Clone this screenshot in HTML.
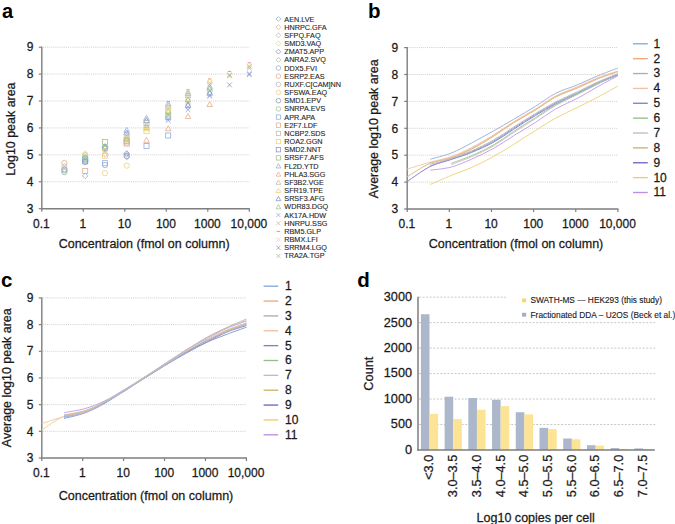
<!DOCTYPE html>
<html><head><meta charset="utf-8"><style>
html,body{margin:0;padding:0;background:#fff;width:675px;height:524px;overflow:hidden;position:relative}
</style></head><body>
<svg width="675" height="524" viewBox="0 0 675 524" style="position:absolute;left:0;top:0">
<g font-family='"Liberation Sans", sans-serif'>
<text x="1.90" y="17.60" text-anchor="start" font-size="20" font-weight="700" fill="#000" >a</text>
<line x1="42.80" y1="181.78" x2="249.30" y2="181.78" stroke="#d2d2d2" stroke-width="1" stroke-dasharray="1.1 1.0"/>
<line x1="42.80" y1="154.86" x2="249.30" y2="154.86" stroke="#d2d2d2" stroke-width="1" stroke-dasharray="1.1 1.0"/>
<line x1="42.80" y1="127.94" x2="249.30" y2="127.94" stroke="#d2d2d2" stroke-width="1" stroke-dasharray="1.1 1.0"/>
<line x1="42.80" y1="101.02" x2="249.30" y2="101.02" stroke="#d2d2d2" stroke-width="1" stroke-dasharray="1.1 1.0"/>
<line x1="42.80" y1="74.10" x2="249.30" y2="74.10" stroke="#d2d2d2" stroke-width="1" stroke-dasharray="1.1 1.0"/>
<line x1="42.80" y1="47.18" x2="249.30" y2="47.18" stroke="#d2d2d2" stroke-width="1" stroke-dasharray="1.1 1.0"/>
<line x1="41.80" y1="46.68" x2="41.80" y2="209.30" stroke="#7e7e7e" stroke-width="1.4"/>
<line x1="41.10" y1="208.70" x2="249.80" y2="208.70" stroke="#7e7e7e" stroke-width="1.4"/>
<line x1="38.80" y1="208.70" x2="41.80" y2="208.70" stroke="#7e7e7e" stroke-width="1.2"/>
<text x="33.50" y="212.90" text-anchor="end" font-size="12" font-weight="400" fill="#1a1a1a" stroke="#1a1a1a" stroke-width="0.26">3</text>
<line x1="38.80" y1="181.78" x2="41.80" y2="181.78" stroke="#7e7e7e" stroke-width="1.2"/>
<text x="33.50" y="185.98" text-anchor="end" font-size="12" font-weight="400" fill="#1a1a1a" stroke="#1a1a1a" stroke-width="0.26">4</text>
<line x1="38.80" y1="154.86" x2="41.80" y2="154.86" stroke="#7e7e7e" stroke-width="1.2"/>
<text x="33.50" y="159.06" text-anchor="end" font-size="12" font-weight="400" fill="#1a1a1a" stroke="#1a1a1a" stroke-width="0.26">5</text>
<line x1="38.80" y1="127.94" x2="41.80" y2="127.94" stroke="#7e7e7e" stroke-width="1.2"/>
<text x="33.50" y="132.14" text-anchor="end" font-size="12" font-weight="400" fill="#1a1a1a" stroke="#1a1a1a" stroke-width="0.26">6</text>
<line x1="38.80" y1="101.02" x2="41.80" y2="101.02" stroke="#7e7e7e" stroke-width="1.2"/>
<text x="33.50" y="105.22" text-anchor="end" font-size="12" font-weight="400" fill="#1a1a1a" stroke="#1a1a1a" stroke-width="0.26">7</text>
<line x1="38.80" y1="74.10" x2="41.80" y2="74.10" stroke="#7e7e7e" stroke-width="1.2"/>
<text x="33.50" y="78.30" text-anchor="end" font-size="12" font-weight="400" fill="#1a1a1a" stroke="#1a1a1a" stroke-width="0.26">8</text>
<line x1="38.80" y1="47.18" x2="41.80" y2="47.18" stroke="#7e7e7e" stroke-width="1.2"/>
<text x="33.50" y="51.38" text-anchor="end" font-size="12" font-weight="400" fill="#1a1a1a" stroke="#1a1a1a" stroke-width="0.26">9</text>
<line x1="41.80" y1="208.70" x2="41.80" y2="211.70" stroke="#7e7e7e" stroke-width="1.2"/>
<text x="41.40" y="228.00" text-anchor="middle" font-size="12" font-weight="400" fill="#1a1a1a" stroke="#1a1a1a" stroke-width="0.26">0.1</text>
<line x1="83.30" y1="208.70" x2="83.30" y2="211.70" stroke="#7e7e7e" stroke-width="1.2"/>
<text x="82.90" y="228.00" text-anchor="middle" font-size="12" font-weight="400" fill="#1a1a1a" stroke="#1a1a1a" stroke-width="0.26">1</text>
<line x1="124.80" y1="208.70" x2="124.80" y2="211.70" stroke="#7e7e7e" stroke-width="1.2"/>
<text x="124.40" y="228.00" text-anchor="middle" font-size="12" font-weight="400" fill="#1a1a1a" stroke="#1a1a1a" stroke-width="0.26">10</text>
<line x1="166.30" y1="208.70" x2="166.30" y2="211.70" stroke="#7e7e7e" stroke-width="1.2"/>
<text x="165.90" y="228.00" text-anchor="middle" font-size="12" font-weight="400" fill="#1a1a1a" stroke="#1a1a1a" stroke-width="0.26">100</text>
<line x1="207.80" y1="208.70" x2="207.80" y2="211.70" stroke="#7e7e7e" stroke-width="1.2"/>
<text x="207.40" y="228.00" text-anchor="middle" font-size="12" font-weight="400" fill="#1a1a1a" stroke="#1a1a1a" stroke-width="0.26">1000</text>
<line x1="249.30" y1="208.70" x2="249.30" y2="211.70" stroke="#7e7e7e" stroke-width="1.2"/>
<text x="248.90" y="228.00" text-anchor="middle" font-size="12" font-weight="400" fill="#1a1a1a" stroke="#1a1a1a" stroke-width="0.26">10,000</text>
<text transform="translate(14.90,129.15) rotate(-90)" text-anchor="middle" font-size="12.45" font-weight="400" fill="#1a1a1a" stroke="#1a1a1a" stroke-width="0.26">Log10 peak area</text>
<text x="58.70" y="248.20" text-anchor="start" font-size="12.5" font-weight="400" fill="#1a1a1a" stroke="#1a1a1a" stroke-width="0.26">Concentraion (fmol on column)</text>
<path d="M278.40 16.60L280.80 19.00L278.40 21.40L276.00 19.00Z" fill="none" stroke="#8eaedb" stroke-width="0.75"/>
<text x="284.30" y="21.55" text-anchor="start" font-size="7.25" font-weight="400" fill="#262626" stroke="#262626" stroke-width="0.12">AEN.LVE</text>
<path d="M278.40 24.77L280.80 27.17L278.40 29.57L276.00 27.17Z" fill="none" stroke="#e6ad90" stroke-width="0.75"/>
<text x="284.30" y="29.72" text-anchor="start" font-size="7.25" font-weight="400" fill="#262626" stroke="#262626" stroke-width="0.12">HNRPC.GFA</text>
<path d="M278.40 32.94L280.80 35.34L278.40 37.74L276.00 35.34Z" fill="none" stroke="#b9b9b9" stroke-width="0.75"/>
<text x="284.30" y="37.89" text-anchor="start" font-size="7.25" font-weight="400" fill="#262626" stroke="#262626" stroke-width="0.12">SFPQ.FAQ</text>
<path d="M278.40 41.11L280.80 43.51L278.40 45.91L276.00 43.51Z" fill="none" stroke="#eed27a" stroke-width="0.75"/>
<text x="284.30" y="46.06" text-anchor="start" font-size="7.25" font-weight="400" fill="#262626" stroke="#262626" stroke-width="0.12">SMD3.VAQ</text>
<path d="M278.40 49.28L280.80 51.68L278.40 54.08L276.00 51.68Z" fill="none" stroke="#8592c8" stroke-width="0.75"/>
<text x="284.30" y="54.23" text-anchor="start" font-size="7.25" font-weight="400" fill="#262626" stroke="#262626" stroke-width="0.12">ZMAT5.APP</text>
<path d="M278.40 57.45L280.80 59.85L278.40 62.25L276.00 59.85Z" fill="none" stroke="#9fc28d" stroke-width="0.75"/>
<text x="284.30" y="62.40" text-anchor="start" font-size="7.25" font-weight="400" fill="#262626" stroke="#262626" stroke-width="0.12">ANRA2.SVQ</text>
<circle cx="278.40" cy="68.02" r="2.28" fill="none" stroke="#8eaedb" stroke-width="0.75"/>
<text x="284.30" y="70.57" text-anchor="start" font-size="7.25" font-weight="400" fill="#262626" stroke="#262626" stroke-width="0.12">DDX5.FVI</text>
<circle cx="278.40" cy="76.19" r="2.28" fill="none" stroke="#e6ad90" stroke-width="0.75"/>
<text x="284.30" y="78.74" text-anchor="start" font-size="7.25" font-weight="400" fill="#262626" stroke="#262626" stroke-width="0.12">ESRP2.EAS</text>
<circle cx="278.40" cy="84.36" r="2.28" fill="none" stroke="#b9b9b9" stroke-width="0.75"/>
<text x="284.30" y="86.91" text-anchor="start" font-size="7.25" font-weight="400" fill="#262626" stroke="#262626" stroke-width="0.12">RUXF.C[CAM]NN</text>
<circle cx="278.40" cy="92.53" r="2.28" fill="none" stroke="#eed27a" stroke-width="0.75"/>
<text x="284.30" y="95.08" text-anchor="start" font-size="7.25" font-weight="400" fill="#262626" stroke="#262626" stroke-width="0.12">SFSWA.EAQ</text>
<circle cx="278.40" cy="100.70" r="2.28" fill="none" stroke="#8592c8" stroke-width="0.75"/>
<text x="284.30" y="103.25" text-anchor="start" font-size="7.25" font-weight="400" fill="#262626" stroke="#262626" stroke-width="0.12">SMD1.EPV</text>
<circle cx="278.40" cy="108.87" r="2.28" fill="none" stroke="#9fc28d" stroke-width="0.75"/>
<text x="284.30" y="111.42" text-anchor="start" font-size="7.25" font-weight="400" fill="#262626" stroke="#262626" stroke-width="0.12">SNRPA.EVS</text>
<rect x="276.24" y="114.88" width="4.32" height="4.32" fill="none" stroke="#8eaedb" stroke-width="0.75"/>
<text x="284.30" y="119.59" text-anchor="start" font-size="7.25" font-weight="400" fill="#262626" stroke="#262626" stroke-width="0.12">APR.APA</text>
<rect x="276.24" y="123.05" width="4.32" height="4.32" fill="none" stroke="#e6ad90" stroke-width="0.75"/>
<text x="284.30" y="127.76" text-anchor="start" font-size="7.25" font-weight="400" fill="#262626" stroke="#262626" stroke-width="0.12">E2F7.LDF</text>
<rect x="276.24" y="131.22" width="4.32" height="4.32" fill="none" stroke="#b9b9b9" stroke-width="0.75"/>
<text x="284.30" y="135.93" text-anchor="start" font-size="7.25" font-weight="400" fill="#262626" stroke="#262626" stroke-width="0.12">NCBP2.SDS</text>
<rect x="276.24" y="139.39" width="4.32" height="4.32" fill="none" stroke="#eed27a" stroke-width="0.75"/>
<text x="284.30" y="144.10" text-anchor="start" font-size="7.25" font-weight="400" fill="#262626" stroke="#262626" stroke-width="0.12">ROA2.GGN</text>
<rect x="276.24" y="147.56" width="4.32" height="4.32" fill="none" stroke="#8592c8" stroke-width="0.75"/>
<text x="284.30" y="152.27" text-anchor="start" font-size="7.25" font-weight="400" fill="#262626" stroke="#262626" stroke-width="0.12">SMD2.NNT</text>
<rect x="276.24" y="155.73" width="4.32" height="4.32" fill="none" stroke="#9fc28d" stroke-width="0.75"/>
<text x="284.30" y="160.44" text-anchor="start" font-size="7.25" font-weight="400" fill="#262626" stroke="#262626" stroke-width="0.12">SRSF7.AFS</text>
<path d="M278.40 163.66L280.80 167.98L276.00 167.98Z" fill="none" stroke="#8eaedb" stroke-width="0.75"/>
<text x="284.30" y="168.61" text-anchor="start" font-size="7.25" font-weight="400" fill="#262626" stroke="#262626" stroke-width="0.12">FL2D.YTD</text>
<path d="M278.40 171.83L280.80 176.15L276.00 176.15Z" fill="none" stroke="#e6ad90" stroke-width="0.75"/>
<text x="284.30" y="176.78" text-anchor="start" font-size="7.25" font-weight="400" fill="#262626" stroke="#262626" stroke-width="0.12">PHLA3.SGG</text>
<path d="M278.40 180.00L280.80 184.32L276.00 184.32Z" fill="none" stroke="#b9b9b9" stroke-width="0.75"/>
<text x="284.30" y="184.95" text-anchor="start" font-size="7.25" font-weight="400" fill="#262626" stroke="#262626" stroke-width="0.12">SF3B2.VGE</text>
<path d="M278.40 188.17L280.80 192.49L276.00 192.49Z" fill="none" stroke="#eed27a" stroke-width="0.75"/>
<text x="284.30" y="193.12" text-anchor="start" font-size="7.25" font-weight="400" fill="#262626" stroke="#262626" stroke-width="0.12">SFR19.TPE</text>
<path d="M278.40 196.34L280.80 200.66L276.00 200.66Z" fill="none" stroke="#8592c8" stroke-width="0.75"/>
<text x="284.30" y="201.29" text-anchor="start" font-size="7.25" font-weight="400" fill="#262626" stroke="#262626" stroke-width="0.12">SRSF3.AFG</text>
<path d="M278.40 204.51L280.80 208.83L276.00 208.83Z" fill="none" stroke="#9fc28d" stroke-width="0.75"/>
<text x="284.30" y="209.46" text-anchor="start" font-size="7.25" font-weight="400" fill="#262626" stroke="#262626" stroke-width="0.12">WDR83.DGQ</text>
<path d="M276.36 213.04L280.44 217.12M280.44 213.04L276.36 217.12" fill="none" stroke="#8eaedb" stroke-width="0.75"/>
<text x="284.30" y="217.63" text-anchor="start" font-size="7.25" font-weight="400" fill="#262626" stroke="#262626" stroke-width="0.12">AK17A.HDW</text>
<path d="M276.36 221.21L280.44 225.29M280.44 221.21L276.36 225.29" fill="none" stroke="#e6ad90" stroke-width="0.75"/>
<text x="284.30" y="225.80" text-anchor="start" font-size="7.25" font-weight="400" fill="#262626" stroke="#262626" stroke-width="0.12">HNRPU.SSG</text>
<line x1="276.70" y1="231.42" x2="280.10" y2="231.42" stroke="#e49a94" stroke-width="1.1"/>
<text x="284.30" y="233.97" text-anchor="start" font-size="7.25" font-weight="400" fill="#262626" stroke="#262626" stroke-width="0.12">RBM5.GLP</text>
<path d="M276.36 237.55L280.44 241.63M280.44 237.55L276.36 241.63" fill="none" stroke="#eed27a" stroke-width="0.75"/>
<text x="284.30" y="242.14" text-anchor="start" font-size="7.25" font-weight="400" fill="#262626" stroke="#262626" stroke-width="0.12">RBMX.LFI</text>
<path d="M276.36 245.72L280.44 249.80M280.44 245.72L276.36 249.80" fill="none" stroke="#8592c8" stroke-width="0.75"/>
<text x="284.30" y="250.31" text-anchor="start" font-size="7.25" font-weight="400" fill="#262626" stroke="#262626" stroke-width="0.12">SRRM4.LGQ</text>
<path d="M276.36 253.89L280.44 257.97M280.44 253.89L276.36 257.97" fill="none" stroke="#9fc28d" stroke-width="0.75"/>
<text x="284.30" y="258.48" text-anchor="start" font-size="7.25" font-weight="400" fill="#262626" stroke="#262626" stroke-width="0.12">TRA2A.TGP</text>
<circle cx="64.38" cy="162.94" r="2.66" fill="none" stroke="#e6ad90" stroke-width="0.8"/>
<path d="M64.38 163.37L67.18 166.17L64.38 168.97L61.58 166.17Z" fill="none" stroke="#e6ad90" stroke-width="0.8"/>
<circle cx="64.38" cy="169.40" r="2.66" fill="none" stroke="#8592c8" stroke-width="0.8"/>
<circle cx="64.38" cy="170.47" r="2.66" fill="none" stroke="#8eaedb" stroke-width="0.8"/>
<circle cx="64.38" cy="172.09" r="2.66" fill="none" stroke="#9fc28d" stroke-width="0.8"/>
<path d="M85.20 150.71L88.00 153.51L85.20 156.31L82.40 153.51Z" fill="none" stroke="#eed27a" stroke-width="0.8"/>
<path d="M85.20 152.06L88.00 154.86L85.20 157.66L82.40 154.86Z" fill="none" stroke="#b9b9b9" stroke-width="0.8"/>
<circle cx="85.20" cy="155.40" r="2.66" fill="none" stroke="#eed27a" stroke-width="0.8"/>
<path d="M85.20 154.21L88.00 157.01L85.20 159.81L82.40 157.01Z" fill="none" stroke="#9fc28d" stroke-width="0.8"/>
<circle cx="85.20" cy="158.09" r="2.66" fill="none" stroke="#9fc28d" stroke-width="0.8"/>
<rect x="82.68" y="156.38" width="5.04" height="5.04" fill="none" stroke="#9fc28d" stroke-width="0.8"/>
<circle cx="85.20" cy="160.24" r="2.66" fill="none" stroke="#8eaedb" stroke-width="0.8"/>
<rect x="82.68" y="158.80" width="5.04" height="5.04" fill="none" stroke="#8eaedb" stroke-width="0.8"/>
<circle cx="85.20" cy="161.86" r="2.66" fill="none" stroke="#8592c8" stroke-width="0.8"/>
<rect x="82.68" y="168.49" width="5.04" height="5.04" fill="none" stroke="#e6ad90" stroke-width="0.8"/>
<path d="M85.20 173.06L88.00 175.86L85.20 178.66L82.40 175.86Z" fill="none" stroke="#8eaedb" stroke-width="0.8"/>
<rect x="102.48" y="139.42" width="5.04" height="5.04" fill="none" stroke="#9fc28d" stroke-width="0.8"/>
<path d="M105.00 143.98L107.80 146.78L105.00 149.58L102.20 146.78Z" fill="none" stroke="#8592c8" stroke-width="0.8"/>
<circle cx="105.00" cy="147.86" r="2.66" fill="none" stroke="#8592c8" stroke-width="0.8"/>
<circle cx="105.00" cy="148.94" r="2.66" fill="none" stroke="#9fc28d" stroke-width="0.8"/>
<path d="M105.00 145.33L107.80 148.13L105.00 150.93L102.20 148.13Z" fill="none" stroke="#9fc28d" stroke-width="0.8"/>
<circle cx="105.00" cy="147.32" r="2.66" fill="none" stroke="#8eaedb" stroke-width="0.8"/>
<path d="M105.00 143.45L107.80 146.25L105.00 149.05L102.20 146.25Z" fill="none" stroke="#b9b9b9" stroke-width="0.8"/>
<path d="M105.00 148.02L107.80 150.82L105.00 153.62L102.20 150.82Z" fill="none" stroke="#eed27a" stroke-width="0.8"/>
<rect x="102.48" y="153.15" width="5.04" height="5.04" fill="none" stroke="#eed27a" stroke-width="0.8"/>
<path d="M105.00 151.52L107.80 154.32L105.00 157.12L102.20 154.32Z" fill="none" stroke="#e6ad90" stroke-width="0.8"/>
<rect x="102.48" y="160.69" width="5.04" height="5.04" fill="none" stroke="#8eaedb" stroke-width="0.8"/>
<circle cx="105.00" cy="165.09" r="2.66" fill="none" stroke="#8eaedb" stroke-width="0.8"/>
<circle cx="105.00" cy="173.17" r="2.66" fill="none" stroke="#eed27a" stroke-width="0.8"/>
<path d="M126.70 127.29L129.50 132.33L123.90 132.33Z" fill="none" stroke="#8eaedb" stroke-width="0.8"/>
<path d="M126.70 129.99L129.50 135.03L123.90 135.03Z" fill="none" stroke="#8592c8" stroke-width="0.8"/>
<path d="M126.70 132.68L129.50 137.72L123.90 137.72Z" fill="none" stroke="#b9b9b9" stroke-width="0.8"/>
<path d="M126.70 135.37L129.50 140.41L123.90 140.41Z" fill="none" stroke="#9fc28d" stroke-width="0.8"/>
<path d="M126.70 137.25L129.50 142.29L123.90 142.29Z" fill="none" stroke="#eed27a" stroke-width="0.8"/>
<rect x="124.18" y="136.73" width="5.04" height="5.04" fill="none" stroke="#eed27a" stroke-width="0.8"/>
<rect x="124.18" y="138.34" width="5.04" height="5.04" fill="none" stroke="#9fc28d" stroke-width="0.8"/>
<rect x="124.18" y="139.96" width="5.04" height="5.04" fill="none" stroke="#b9b9b9" stroke-width="0.8"/>
<rect x="124.18" y="141.03" width="5.04" height="5.04" fill="none" stroke="#e6ad90" stroke-width="0.8"/>
<path d="M126.70 150.71L129.50 153.51L126.70 156.31L123.90 153.51Z" fill="none" stroke="#8592c8" stroke-width="0.8"/>
<path d="M126.70 151.52L129.50 154.32L126.70 157.12L123.90 154.32Z" fill="none" stroke="#e6ad90" stroke-width="0.8"/>
<circle cx="126.70" cy="155.94" r="2.66" fill="none" stroke="#8592c8" stroke-width="0.8"/>
<path d="M126.70 154.21L129.50 157.01L126.70 159.81L123.90 157.01Z" fill="none" stroke="#8eaedb" stroke-width="0.8"/>
<circle cx="126.70" cy="165.63" r="2.66" fill="none" stroke="#eed27a" stroke-width="0.8"/>
<path d="M146.50 115.18L149.30 120.22L143.70 120.22Z" fill="none" stroke="#8eaedb" stroke-width="0.8"/>
<path d="M146.50 117.60L149.30 122.64L143.70 122.64Z" fill="none" stroke="#8592c8" stroke-width="0.8"/>
<rect x="143.98" y="120.57" width="5.04" height="5.04" fill="none" stroke="#b9b9b9" stroke-width="0.8"/>
<path d="M146.50 122.45L149.30 127.49L143.70 127.49Z" fill="none" stroke="#b9b9b9" stroke-width="0.8"/>
<path d="M146.50 124.60L149.30 129.64L143.70 129.64Z" fill="none" stroke="#9fc28d" stroke-width="0.8"/>
<path d="M146.50 125.68L149.30 130.72L143.70 130.72Z" fill="none" stroke="#eed27a" stroke-width="0.8"/>
<rect x="143.98" y="128.65" width="5.04" height="5.04" fill="none" stroke="#eed27a" stroke-width="0.8"/>
<path d="M146.50 137.25L149.30 142.29L143.70 142.29Z" fill="none" stroke="#e6ad90" stroke-width="0.8"/>
<rect x="143.98" y="143.46" width="5.04" height="5.04" fill="none" stroke="#8eaedb" stroke-width="0.8"/>
<line x1="166.50" y1="101.56" x2="169.90" y2="101.56" stroke="#e49a94" stroke-width="1.1"/>
<path d="M168.20 100.91L171.00 105.95L165.40 105.95Z" fill="none" stroke="#8eaedb" stroke-width="0.8"/>
<path d="M168.20 103.07L171.00 108.11L165.40 108.11Z" fill="none" stroke="#b9b9b9" stroke-width="0.8"/>
<path d="M168.20 104.95L171.00 109.99L165.40 109.99Z" fill="none" stroke="#eed27a" stroke-width="0.8"/>
<rect x="165.68" y="107.11" width="5.04" height="5.04" fill="none" stroke="#eed27a" stroke-width="0.8"/>
<path d="M168.20 108.45L171.00 113.49L165.40 113.49Z" fill="none" stroke="#9fc28d" stroke-width="0.8"/>
<path d="M165.82 110.75L170.58 115.51M170.58 110.75L165.82 115.51" fill="none" stroke="#eed27a" stroke-width="0.8"/>
<path d="M165.82 112.10L170.58 116.86M170.58 112.10L165.82 116.86" fill="none" stroke="#9fc28d" stroke-width="0.8"/>
<path d="M165.82 113.45L170.58 118.21M170.58 113.45L165.82 118.21" fill="none" stroke="#e6ad90" stroke-width="0.8"/>
<rect x="165.68" y="114.65" width="5.04" height="5.04" fill="none" stroke="#9fc28d" stroke-width="0.8"/>
<path d="M165.82 116.14L170.58 120.90M170.58 116.14L165.82 120.90" fill="none" stroke="#8eaedb" stroke-width="0.8"/>
<path d="M165.82 118.02L170.58 122.78M170.58 118.02L165.82 122.78" fill="none" stroke="#8592c8" stroke-width="0.8"/>
<path d="M168.20 125.68L171.00 130.72L165.40 130.72Z" fill="none" stroke="#e6ad90" stroke-width="0.8"/>
<rect x="165.68" y="132.96" width="5.04" height="5.04" fill="none" stroke="#8eaedb" stroke-width="0.8"/>
<line x1="186.30" y1="89.71" x2="189.70" y2="89.71" stroke="#e49a94" stroke-width="1.1"/>
<path d="M188.00 88.80L190.80 93.84L185.20 93.84Z" fill="none" stroke="#eed27a" stroke-width="0.8"/>
<path d="M188.00 90.68L190.80 95.72L185.20 95.72Z" fill="none" stroke="#8eaedb" stroke-width="0.8"/>
<path d="M188.00 92.84L190.80 97.88L185.20 97.88Z" fill="none" stroke="#b9b9b9" stroke-width="0.8"/>
<path d="M185.62 95.41L190.38 100.17M190.38 95.41L185.62 100.17" fill="none" stroke="#eed27a" stroke-width="0.8"/>
<path d="M188.00 96.87L190.80 101.91L185.20 101.91Z" fill="none" stroke="#9fc28d" stroke-width="0.8"/>
<path d="M185.62 99.18L190.38 103.94M190.38 99.18L185.62 103.94" fill="none" stroke="#9fc28d" stroke-width="0.8"/>
<path d="M185.62 100.79L190.38 105.55M190.38 100.79L185.62 105.55" fill="none" stroke="#e6ad90" stroke-width="0.8"/>
<path d="M188.00 102.26L190.80 107.30L185.20 107.30Z" fill="none" stroke="#8592c8" stroke-width="0.8"/>
<path d="M185.62 104.56L190.38 109.32M190.38 104.56L185.62 109.32" fill="none" stroke="#8eaedb" stroke-width="0.8"/>
<path d="M185.62 107.25L190.38 112.01M190.38 107.25L185.62 112.01" fill="none" stroke="#8592c8" stroke-width="0.8"/>
<path d="M188.00 113.56L190.80 118.60L185.20 118.60Z" fill="none" stroke="#e6ad90" stroke-width="0.8"/>
<line x1="208.00" y1="78.95" x2="211.40" y2="78.95" stroke="#e49a94" stroke-width="1.1"/>
<path d="M209.70 78.03L212.50 83.07L206.90 83.07Z" fill="none" stroke="#eed27a" stroke-width="0.8"/>
<path d="M207.32 80.33L212.08 85.09M212.08 80.33L207.32 85.09" fill="none" stroke="#eed27a" stroke-width="0.8"/>
<path d="M207.32 82.49L212.08 87.25M212.08 82.49L207.32 87.25" fill="none" stroke="#e6ad90" stroke-width="0.8"/>
<path d="M209.70 84.22L212.50 89.26L206.90 89.26Z" fill="none" stroke="#8eaedb" stroke-width="0.8"/>
<path d="M209.70 86.11L212.50 91.15L206.90 91.15Z" fill="none" stroke="#9fc28d" stroke-width="0.8"/>
<path d="M207.32 88.41L212.08 93.17M212.08 88.41L207.32 93.17" fill="none" stroke="#9fc28d" stroke-width="0.8"/>
<path d="M209.70 90.14L212.50 95.18L206.90 95.18Z" fill="none" stroke="#8592c8" stroke-width="0.8"/>
<path d="M207.32 92.72L212.08 97.48M212.08 92.72L207.32 97.48" fill="none" stroke="#8592c8" stroke-width="0.8"/>
<path d="M207.32 93.79L212.08 98.55M212.08 93.79L207.32 98.55" fill="none" stroke="#8eaedb" stroke-width="0.8"/>
<path d="M209.70 101.45L212.50 106.49L206.90 106.49Z" fill="none" stroke="#e6ad90" stroke-width="0.8"/>
<line x1="227.80" y1="71.41" x2="231.20" y2="71.41" stroke="#e49a94" stroke-width="1.1"/>
<path d="M227.12 72.26L231.88 77.02M231.88 72.26L227.12 77.02" fill="none" stroke="#eed27a" stroke-width="0.8"/>
<path d="M227.12 72.80L231.88 77.56M231.88 72.80L227.12 77.56" fill="none" stroke="#e6ad90" stroke-width="0.8"/>
<path d="M227.12 73.60L231.88 78.36M231.88 73.60L227.12 78.36" fill="none" stroke="#9fc28d" stroke-width="0.8"/>
<path d="M227.12 82.49L231.88 87.25M231.88 82.49L227.12 87.25" fill="none" stroke="#8592c8" stroke-width="0.8"/>
<line x1="247.60" y1="62.79" x2="251.00" y2="62.79" stroke="#e49a94" stroke-width="1.1"/>
<path d="M246.92 63.64L251.68 68.40M251.68 63.64L246.92 68.40" fill="none" stroke="#eed27a" stroke-width="0.8"/>
<path d="M246.92 64.18L251.68 68.94M251.68 64.18L246.92 68.94" fill="none" stroke="#e6ad90" stroke-width="0.8"/>
<path d="M246.92 65.80L251.68 70.56M251.68 65.80L246.92 70.56" fill="none" stroke="#9fc28d" stroke-width="0.8"/>
<path d="M246.92 71.18L251.68 75.94M251.68 71.18L246.92 75.94" fill="none" stroke="#8eaedb" stroke-width="0.8"/>
<path d="M246.92 72.26L251.68 77.02M251.68 72.26L246.92 77.02" fill="none" stroke="#8592c8" stroke-width="0.8"/>
<text x="368.00" y="18.20" text-anchor="start" font-size="20.5" font-weight="700" fill="#000" >b</text>
<line x1="408.20" y1="182.10" x2="617.90" y2="182.10" stroke="#d2d2d2" stroke-width="1" stroke-dasharray="1.1 1.0"/>
<line x1="408.20" y1="155.20" x2="617.90" y2="155.20" stroke="#d2d2d2" stroke-width="1" stroke-dasharray="1.1 1.0"/>
<line x1="408.20" y1="128.30" x2="617.90" y2="128.30" stroke="#d2d2d2" stroke-width="1" stroke-dasharray="1.1 1.0"/>
<line x1="408.20" y1="101.40" x2="617.90" y2="101.40" stroke="#d2d2d2" stroke-width="1" stroke-dasharray="1.1 1.0"/>
<line x1="408.20" y1="74.50" x2="617.90" y2="74.50" stroke="#d2d2d2" stroke-width="1" stroke-dasharray="1.1 1.0"/>
<line x1="408.20" y1="47.60" x2="617.90" y2="47.60" stroke="#d2d2d2" stroke-width="1" stroke-dasharray="1.1 1.0"/>
<line x1="407.20" y1="47.10" x2="407.20" y2="209.60" stroke="#7e7e7e" stroke-width="1.4"/>
<line x1="406.50" y1="209.00" x2="618.40" y2="209.00" stroke="#7e7e7e" stroke-width="1.4"/>
<line x1="404.20" y1="209.00" x2="407.20" y2="209.00" stroke="#7e7e7e" stroke-width="1.2"/>
<text x="398.30" y="213.20" text-anchor="end" font-size="12" font-weight="400" fill="#1a1a1a" stroke="#1a1a1a" stroke-width="0.26">3</text>
<line x1="404.20" y1="182.10" x2="407.20" y2="182.10" stroke="#7e7e7e" stroke-width="1.2"/>
<text x="398.30" y="186.30" text-anchor="end" font-size="12" font-weight="400" fill="#1a1a1a" stroke="#1a1a1a" stroke-width="0.26">4</text>
<line x1="404.20" y1="155.20" x2="407.20" y2="155.20" stroke="#7e7e7e" stroke-width="1.2"/>
<text x="398.30" y="159.40" text-anchor="end" font-size="12" font-weight="400" fill="#1a1a1a" stroke="#1a1a1a" stroke-width="0.26">5</text>
<line x1="404.20" y1="128.30" x2="407.20" y2="128.30" stroke="#7e7e7e" stroke-width="1.2"/>
<text x="398.30" y="132.50" text-anchor="end" font-size="12" font-weight="400" fill="#1a1a1a" stroke="#1a1a1a" stroke-width="0.26">6</text>
<line x1="404.20" y1="101.40" x2="407.20" y2="101.40" stroke="#7e7e7e" stroke-width="1.2"/>
<text x="398.30" y="105.60" text-anchor="end" font-size="12" font-weight="400" fill="#1a1a1a" stroke="#1a1a1a" stroke-width="0.26">7</text>
<line x1="404.20" y1="74.50" x2="407.20" y2="74.50" stroke="#7e7e7e" stroke-width="1.2"/>
<text x="398.30" y="78.70" text-anchor="end" font-size="12" font-weight="400" fill="#1a1a1a" stroke="#1a1a1a" stroke-width="0.26">8</text>
<line x1="404.20" y1="47.60" x2="407.20" y2="47.60" stroke="#7e7e7e" stroke-width="1.2"/>
<text x="398.30" y="51.80" text-anchor="end" font-size="12" font-weight="400" fill="#1a1a1a" stroke="#1a1a1a" stroke-width="0.26">9</text>
<line x1="407.20" y1="209.00" x2="407.20" y2="212.00" stroke="#7e7e7e" stroke-width="1.2"/>
<text x="406.80" y="228.00" text-anchor="middle" font-size="12" font-weight="400" fill="#1a1a1a" stroke="#1a1a1a" stroke-width="0.26">0.1</text>
<line x1="449.34" y1="209.00" x2="449.34" y2="212.00" stroke="#7e7e7e" stroke-width="1.2"/>
<text x="448.94" y="228.00" text-anchor="middle" font-size="12" font-weight="400" fill="#1a1a1a" stroke="#1a1a1a" stroke-width="0.26">1</text>
<line x1="491.48" y1="209.00" x2="491.48" y2="212.00" stroke="#7e7e7e" stroke-width="1.2"/>
<text x="491.08" y="228.00" text-anchor="middle" font-size="12" font-weight="400" fill="#1a1a1a" stroke="#1a1a1a" stroke-width="0.26">10</text>
<line x1="533.62" y1="209.00" x2="533.62" y2="212.00" stroke="#7e7e7e" stroke-width="1.2"/>
<text x="533.22" y="228.00" text-anchor="middle" font-size="12" font-weight="400" fill="#1a1a1a" stroke="#1a1a1a" stroke-width="0.26">100</text>
<line x1="575.76" y1="209.00" x2="575.76" y2="212.00" stroke="#7e7e7e" stroke-width="1.2"/>
<text x="575.36" y="228.00" text-anchor="middle" font-size="12" font-weight="400" fill="#1a1a1a" stroke="#1a1a1a" stroke-width="0.26">1000</text>
<line x1="617.90" y1="209.00" x2="617.90" y2="212.00" stroke="#7e7e7e" stroke-width="1.2"/>
<text x="617.50" y="228.00" text-anchor="middle" font-size="12" font-weight="400" fill="#1a1a1a" stroke="#1a1a1a" stroke-width="0.26">10,000</text>
<text transform="translate(378.30,128.75) rotate(-90)" text-anchor="middle" font-size="12.45" font-weight="400" fill="#1a1a1a" stroke="#1a1a1a" stroke-width="0.26">Average log10 peak area</text>
<text x="428.70" y="247.80" text-anchor="start" font-size="12.53" font-weight="400" fill="#1a1a1a" stroke="#1a1a1a" stroke-width="0.26">Concentration (fmol on column)</text>
<path d="M430.13 170.26C433.65 169.73 444.39 168.87 451.27 167.04C458.14 165.20 464.35 162.33 471.37 159.24C478.40 156.14 486.38 152.38 493.41 148.47C500.43 144.57 506.49 140.18 513.51 135.83C520.54 131.48 528.52 126.87 535.55 122.38C542.57 117.90 548.63 112.97 555.65 108.93C562.68 104.90 570.66 101.89 577.69 98.17C584.71 94.45 591.09 90.33 597.79 86.61C604.50 82.88 614.55 77.64 617.90 75.84" fill="none" stroke="#cba0ec" stroke-width="1.0" stroke-linejoin="round"/>
<path d="M430.13 184.52C433.65 183.00 444.39 178.20 451.27 175.38C458.14 172.55 464.35 170.71 471.37 167.57C478.40 164.44 486.38 160.40 493.41 156.54C500.43 152.69 506.49 148.79 513.51 144.44C520.54 140.09 528.52 134.85 535.55 130.45C542.57 126.06 548.63 121.93 555.65 118.08C562.68 114.22 570.66 110.81 577.69 107.32C584.71 103.82 591.09 100.64 597.79 97.10C604.50 93.55 614.55 87.91 617.90 86.07" fill="none" stroke="#f2d481" stroke-width="1.0" stroke-linejoin="round"/>
<path d="M407.20 181.56C411.02 179.05 422.78 170.17 430.13 166.50C437.47 162.82 444.39 161.84 451.27 159.50C458.14 157.17 464.35 155.38 471.37 152.51C478.40 149.64 486.38 146.14 493.41 142.29C500.43 138.43 506.49 133.86 513.51 129.38C520.54 124.89 528.52 119.60 535.55 115.39C542.57 111.17 548.63 107.68 555.65 104.09C562.68 100.50 570.66 97.28 577.69 93.87C584.71 90.46 591.09 86.78 597.79 83.65C604.50 80.51 614.55 76.47 617.90 75.04" fill="none" stroke="#8d80c8" stroke-width="1.0" stroke-linejoin="round"/>
<path d="M407.20 176.72C411.02 174.48 422.78 166.41 430.13 163.27C437.47 160.13 444.39 160.22 451.27 157.89C458.14 155.56 464.35 152.87 471.37 149.28C478.40 145.70 486.38 140.76 493.41 136.37C500.43 131.98 506.49 127.31 513.51 122.92C520.54 118.53 528.52 114.31 535.55 110.01C542.57 105.70 548.63 100.77 555.65 97.10C562.68 93.42 570.66 91.00 577.69 87.95C584.71 84.90 591.09 81.49 597.79 78.80C604.50 76.11 614.55 72.98 617.90 71.81" fill="none" stroke="#d6c186" stroke-width="1.0" stroke-linejoin="round"/>
<path d="M451.27 164.62C454.62 163.31 464.35 159.91 471.37 156.81C478.40 153.72 486.38 150.09 493.41 146.05C500.43 142.02 506.49 137.18 513.51 132.60C520.54 128.03 528.52 123.14 535.55 118.62C542.57 114.09 548.63 109.47 555.65 105.44C562.68 101.40 570.66 97.99 577.69 94.41C584.71 90.82 591.09 87.19 597.79 83.91C604.50 80.64 614.55 76.29 617.90 74.77" fill="none" stroke="#c8c8c8" stroke-width="1.0" stroke-linejoin="round"/>
<path d="M451.27 163.27C454.62 162.01 464.35 158.79 471.37 155.74C478.40 152.69 486.38 149.01 493.41 144.98C500.43 140.94 506.49 136.10 513.51 131.53C520.54 126.96 528.52 122.02 535.55 117.54C542.57 113.06 548.63 108.57 555.65 104.63C562.68 100.68 570.66 97.36 577.69 93.87C584.71 90.37 591.09 86.87 597.79 83.65C604.50 80.42 614.55 76.02 617.90 74.50" fill="none" stroke="#aac89b" stroke-width="1.0" stroke-linejoin="round"/>
<path d="M430.13 165.96C433.65 164.79 444.39 161.34 451.27 158.97C458.14 156.59 464.35 154.66 471.37 151.70C478.40 148.74 486.38 145.11 493.41 141.21C500.43 137.31 506.49 132.78 513.51 128.30C520.54 123.82 528.52 118.53 535.55 114.31C542.57 110.10 548.63 106.60 555.65 103.01C562.68 99.43 570.66 96.20 577.69 92.79C584.71 89.38 591.09 85.62 597.79 82.57C604.50 79.52 614.55 75.84 617.90 74.50" fill="none" stroke="#8b9dd5" stroke-width="1.0" stroke-linejoin="round"/>
<path d="M407.20 169.19C411.02 168.02 422.78 164.30 430.13 162.19C437.47 160.09 444.39 158.97 451.27 156.54C458.14 154.12 464.35 151.25 471.37 147.67C478.40 144.08 486.38 139.33 493.41 135.03C500.43 130.72 506.49 126.19 513.51 121.84C520.54 117.50 528.52 113.24 535.55 108.93C542.57 104.63 548.63 99.74 555.65 96.02C562.68 92.30 570.66 89.65 577.69 86.61C584.71 83.56 591.09 80.33 597.79 77.73C604.50 75.13 614.55 72.12 617.90 71.00" fill="none" stroke="#f4cbb1" stroke-width="1.0" stroke-linejoin="round"/>
<path d="M430.13 164.35C433.65 163.36 444.39 160.67 451.27 158.43C458.14 156.19 464.35 153.94 471.37 150.90C478.40 147.85 486.38 144.08 493.41 140.14C500.43 136.19 506.49 131.66 513.51 127.22C520.54 122.79 528.52 117.72 535.55 113.51C542.57 109.29 548.63 105.57 555.65 101.94C562.68 98.31 570.66 95.03 577.69 91.72C584.71 88.40 591.09 85.04 597.79 82.03C604.50 79.03 614.55 75.08 617.90 73.69" fill="none" stroke="#bbbbbb" stroke-width="1.0" stroke-linejoin="round"/>
<path d="M430.13 162.73C433.65 161.84 444.39 159.73 451.27 157.35C458.14 154.98 464.35 152.06 471.37 148.47C478.40 144.89 486.38 140.18 493.41 135.83C500.43 131.48 506.49 126.78 513.51 122.38C520.54 117.99 528.52 113.77 535.55 109.47C542.57 105.17 548.63 100.23 555.65 96.56C562.68 92.88 570.66 90.42 577.69 87.41C584.71 84.41 591.09 81.23 597.79 78.54C604.50 75.85 614.55 72.48 617.90 71.27" fill="none" stroke="#f1b893" stroke-width="1.0" stroke-linejoin="round"/>
<path d="M430.13 159.24C433.65 158.20 444.39 155.74 451.27 153.05C458.14 150.36 464.35 146.77 471.37 143.09C478.40 139.42 486.38 134.94 493.41 130.99C500.43 127.04 506.49 123.55 513.51 119.42C520.54 115.30 528.52 110.59 535.55 106.24C542.57 101.89 548.63 96.92 555.65 93.33C562.68 89.74 570.66 87.64 577.69 84.72C584.71 81.81 591.09 78.62 597.79 75.84C604.50 73.07 614.55 69.34 617.90 68.04" fill="none" stroke="#9bb7e0" stroke-width="1.0" stroke-linejoin="round"/>
<line x1="633" y1="43.80" x2="647.8" y2="43.80" stroke="#86a8da" stroke-width="1.35"/>
<text x="653.40" y="47.70" text-anchor="start" font-size="12" font-weight="400" fill="#1a1a1a" stroke="#1a1a1a" stroke-width="0.26">1</text>
<line x1="633" y1="58.67" x2="647.8" y2="58.67" stroke="#efa97c" stroke-width="1.35"/>
<text x="653.40" y="62.57" text-anchor="start" font-size="12" font-weight="400" fill="#1a1a1a" stroke="#1a1a1a" stroke-width="0.26">2</text>
<line x1="633" y1="73.54" x2="647.8" y2="73.54" stroke="#adadad" stroke-width="1.35"/>
<text x="653.40" y="77.44" text-anchor="start" font-size="12" font-weight="400" fill="#1a1a1a" stroke="#1a1a1a" stroke-width="0.26">3</text>
<line x1="633" y1="88.41" x2="647.8" y2="88.41" stroke="#f2c0a0" stroke-width="1.35"/>
<text x="653.40" y="92.31" text-anchor="start" font-size="12" font-weight="400" fill="#1a1a1a" stroke="#1a1a1a" stroke-width="0.26">4</text>
<line x1="633" y1="103.28" x2="647.8" y2="103.28" stroke="#7288cc" stroke-width="1.35"/>
<text x="653.40" y="107.18" text-anchor="start" font-size="12" font-weight="400" fill="#1a1a1a" stroke="#1a1a1a" stroke-width="0.26">5</text>
<line x1="633" y1="118.15" x2="647.8" y2="118.15" stroke="#98bd86" stroke-width="1.35"/>
<text x="653.40" y="122.05" text-anchor="start" font-size="12" font-weight="400" fill="#1a1a1a" stroke="#1a1a1a" stroke-width="0.26">6</text>
<line x1="633" y1="133.02" x2="647.8" y2="133.02" stroke="#bdbdbd" stroke-width="1.35"/>
<text x="653.40" y="136.92" text-anchor="start" font-size="12" font-weight="400" fill="#1a1a1a" stroke="#1a1a1a" stroke-width="0.26">7</text>
<line x1="633" y1="147.89" x2="647.8" y2="147.89" stroke="#cdb46c" stroke-width="1.35"/>
<text x="653.40" y="151.79" text-anchor="start" font-size="12" font-weight="400" fill="#1a1a1a" stroke="#1a1a1a" stroke-width="0.26">8</text>
<line x1="633" y1="162.76" x2="647.8" y2="162.76" stroke="#7565bd" stroke-width="1.35"/>
<text x="653.40" y="166.66" text-anchor="start" font-size="12" font-weight="400" fill="#1a1a1a" stroke="#1a1a1a" stroke-width="0.26">9</text>
<line x1="633" y1="177.63" x2="647.8" y2="177.63" stroke="#f0cb66" stroke-width="1.35"/>
<text x="653.40" y="181.53" text-anchor="start" font-size="12" font-weight="400" fill="#1a1a1a" stroke="#1a1a1a" stroke-width="0.26">10</text>
<line x1="633" y1="192.50" x2="647.8" y2="192.50" stroke="#c08ce8" stroke-width="1.35"/>
<text x="653.40" y="196.40" text-anchor="start" font-size="12" font-weight="400" fill="#1a1a1a" stroke="#1a1a1a" stroke-width="0.26">11</text>
<text x="1.00" y="286.50" text-anchor="start" font-size="20.5" font-weight="700" fill="#000" >c</text>
<line x1="42.80" y1="431.32" x2="246.40" y2="431.32" stroke="#d2d2d2" stroke-width="1" stroke-dasharray="1.1 1.0"/>
<line x1="42.80" y1="404.64" x2="246.40" y2="404.64" stroke="#d2d2d2" stroke-width="1" stroke-dasharray="1.1 1.0"/>
<line x1="42.80" y1="377.96" x2="246.40" y2="377.96" stroke="#d2d2d2" stroke-width="1" stroke-dasharray="1.1 1.0"/>
<line x1="42.80" y1="351.28" x2="246.40" y2="351.28" stroke="#d2d2d2" stroke-width="1" stroke-dasharray="1.1 1.0"/>
<line x1="42.80" y1="324.60" x2="246.40" y2="324.60" stroke="#d2d2d2" stroke-width="1" stroke-dasharray="1.1 1.0"/>
<line x1="42.80" y1="297.92" x2="246.40" y2="297.92" stroke="#d2d2d2" stroke-width="1" stroke-dasharray="1.1 1.0"/>
<line x1="41.80" y1="297.42" x2="41.80" y2="458.60" stroke="#7e7e7e" stroke-width="1.4"/>
<line x1="41.10" y1="458.00" x2="246.90" y2="458.00" stroke="#7e7e7e" stroke-width="1.4"/>
<line x1="38.80" y1="458.00" x2="41.80" y2="458.00" stroke="#7e7e7e" stroke-width="1.2"/>
<text x="33.50" y="462.20" text-anchor="end" font-size="12" font-weight="400" fill="#1a1a1a" stroke="#1a1a1a" stroke-width="0.26">3</text>
<line x1="38.80" y1="431.32" x2="41.80" y2="431.32" stroke="#7e7e7e" stroke-width="1.2"/>
<text x="33.50" y="435.52" text-anchor="end" font-size="12" font-weight="400" fill="#1a1a1a" stroke="#1a1a1a" stroke-width="0.26">4</text>
<line x1="38.80" y1="404.64" x2="41.80" y2="404.64" stroke="#7e7e7e" stroke-width="1.2"/>
<text x="33.50" y="408.84" text-anchor="end" font-size="12" font-weight="400" fill="#1a1a1a" stroke="#1a1a1a" stroke-width="0.26">5</text>
<line x1="38.80" y1="377.96" x2="41.80" y2="377.96" stroke="#7e7e7e" stroke-width="1.2"/>
<text x="33.50" y="382.16" text-anchor="end" font-size="12" font-weight="400" fill="#1a1a1a" stroke="#1a1a1a" stroke-width="0.26">6</text>
<line x1="38.80" y1="351.28" x2="41.80" y2="351.28" stroke="#7e7e7e" stroke-width="1.2"/>
<text x="33.50" y="355.48" text-anchor="end" font-size="12" font-weight="400" fill="#1a1a1a" stroke="#1a1a1a" stroke-width="0.26">7</text>
<line x1="38.80" y1="324.60" x2="41.80" y2="324.60" stroke="#7e7e7e" stroke-width="1.2"/>
<text x="33.50" y="328.80" text-anchor="end" font-size="12" font-weight="400" fill="#1a1a1a" stroke="#1a1a1a" stroke-width="0.26">8</text>
<line x1="38.80" y1="297.92" x2="41.80" y2="297.92" stroke="#7e7e7e" stroke-width="1.2"/>
<text x="33.50" y="302.12" text-anchor="end" font-size="12" font-weight="400" fill="#1a1a1a" stroke="#1a1a1a" stroke-width="0.26">9</text>
<line x1="41.80" y1="458.00" x2="41.80" y2="461.00" stroke="#7e7e7e" stroke-width="1.2"/>
<text x="41.40" y="476.80" text-anchor="middle" font-size="12" font-weight="400" fill="#1a1a1a" stroke="#1a1a1a" stroke-width="0.26">0.1</text>
<line x1="82.72" y1="458.00" x2="82.72" y2="461.00" stroke="#7e7e7e" stroke-width="1.2"/>
<text x="82.32" y="476.80" text-anchor="middle" font-size="12" font-weight="400" fill="#1a1a1a" stroke="#1a1a1a" stroke-width="0.26">1</text>
<line x1="123.64" y1="458.00" x2="123.64" y2="461.00" stroke="#7e7e7e" stroke-width="1.2"/>
<text x="123.24" y="476.80" text-anchor="middle" font-size="12" font-weight="400" fill="#1a1a1a" stroke="#1a1a1a" stroke-width="0.26">10</text>
<line x1="164.56" y1="458.00" x2="164.56" y2="461.00" stroke="#7e7e7e" stroke-width="1.2"/>
<text x="164.16" y="476.80" text-anchor="middle" font-size="12" font-weight="400" fill="#1a1a1a" stroke="#1a1a1a" stroke-width="0.26">100</text>
<line x1="205.48" y1="458.00" x2="205.48" y2="461.00" stroke="#7e7e7e" stroke-width="1.2"/>
<text x="205.08" y="476.80" text-anchor="middle" font-size="12" font-weight="400" fill="#1a1a1a" stroke="#1a1a1a" stroke-width="0.26">1000</text>
<line x1="246.40" y1="458.00" x2="246.40" y2="461.00" stroke="#7e7e7e" stroke-width="1.2"/>
<text x="246.00" y="476.80" text-anchor="middle" font-size="12" font-weight="400" fill="#1a1a1a" stroke="#1a1a1a" stroke-width="0.26">10,000</text>
<text transform="translate(10.70,377.75) rotate(-90)" text-anchor="middle" font-size="12.45" font-weight="400" fill="#1a1a1a" stroke="#1a1a1a" stroke-width="0.26">Average log10 peak area</text>
<text x="58.70" y="499.70" text-anchor="start" font-size="12.53" font-weight="400" fill="#1a1a1a" stroke="#1a1a1a" stroke-width="0.26">Concentration (fmol on column)</text>
<path d="M64.06 412.64C67.48 411.99 77.92 410.60 84.59 408.70C91.27 406.79 97.30 404.53 104.12 401.22C110.94 397.92 118.69 392.90 125.51 388.85C132.33 384.79 138.22 381.08 145.04 376.92C151.86 372.75 159.61 368.30 166.43 363.84C173.25 359.38 179.14 354.39 185.96 350.17C192.78 345.96 200.53 342.19 207.35 338.54C214.17 334.88 220.37 331.13 226.88 328.23C233.38 325.34 243.15 322.36 246.40 321.18" fill="none" stroke="#cba0ec" stroke-width="1.0" stroke-linejoin="round"/>
<path d="M41.80 429.99C45.51 427.68 56.93 419.13 64.06 416.17C71.20 413.20 77.92 414.47 84.59 412.18C91.27 409.89 97.30 406.04 104.12 402.43C110.94 398.81 118.69 394.75 125.51 390.49C132.33 386.22 138.22 381.23 145.04 376.82C151.86 372.40 159.61 368.17 166.43 364.01C173.25 359.86 179.14 355.95 185.96 351.91C192.78 347.86 200.53 343.28 207.35 339.74C214.17 336.21 220.37 333.48 226.88 330.68C233.38 327.88 243.15 324.23 246.40 322.95" fill="none" stroke="#f2d481" stroke-width="1.0" stroke-linejoin="round"/>
<path d="M64.06 417.23C67.48 416.34 77.92 414.26 84.59 411.90C91.27 409.53 97.30 406.73 104.12 403.04C110.94 399.35 118.69 393.98 125.51 389.75C132.33 385.52 138.22 381.90 145.04 377.65C151.86 373.40 159.61 368.48 166.43 364.28C173.25 360.07 179.14 356.15 185.96 352.40C192.78 348.64 200.53 345.13 207.35 341.74C214.17 338.36 220.37 334.80 226.88 332.10C233.38 329.41 243.15 326.65 246.40 325.56" fill="none" stroke="#8d80c8" stroke-width="1.0" stroke-linejoin="round"/>
<path d="M64.06 415.53C67.48 414.92 77.92 414.15 84.59 411.90C91.27 409.65 97.30 405.68 104.12 402.03C110.94 398.37 118.69 394.19 125.51 389.97C132.33 385.74 138.22 380.94 145.04 376.68C151.86 372.42 159.61 368.65 166.43 364.41C173.25 360.16 179.14 355.28 185.96 351.23C192.78 347.17 200.53 343.41 207.35 340.07C214.17 336.74 220.37 334.00 226.88 331.22C233.38 328.43 243.15 324.68 246.40 323.37" fill="none" stroke="#d6c186" stroke-width="1.0" stroke-linejoin="round"/>
<path d="M64.06 415.21C67.48 414.45 77.92 412.79 84.59 410.66C91.27 408.53 97.30 405.99 104.12 402.43C110.94 398.86 118.69 393.55 125.51 389.29C132.33 385.02 138.22 381.28 145.04 376.84C151.86 372.41 159.61 367.09 166.43 362.66C173.25 358.23 179.14 354.48 185.96 350.29C192.78 346.10 200.53 341.28 207.35 337.55C214.17 333.82 220.37 330.73 226.88 327.90C233.38 325.06 243.15 321.77 246.40 320.54" fill="none" stroke="#c8c8c8" stroke-width="1.0" stroke-linejoin="round"/>
<path d="M64.06 416.22C67.48 415.54 77.92 414.43 84.59 412.14C91.27 409.84 97.30 406.07 104.12 402.45C110.94 398.83 118.69 394.70 125.51 390.42C132.33 386.14 138.22 381.10 145.04 376.75C151.86 372.40 159.61 368.52 166.43 364.30C173.25 360.08 179.14 355.33 185.96 351.43C192.78 347.53 200.53 344.30 207.35 340.90C214.17 337.51 220.37 333.83 226.88 331.07C233.38 328.31 243.15 325.46 246.40 324.33" fill="none" stroke="#aac89b" stroke-width="1.0" stroke-linejoin="round"/>
<path d="M64.06 418.46C67.48 417.55 77.92 415.47 84.59 413.02C91.27 410.56 97.30 407.54 104.12 403.73C110.94 399.93 118.69 394.49 125.51 390.18C132.33 385.86 138.22 382.09 145.04 377.84C151.86 373.60 159.61 368.78 166.43 364.70C173.25 360.62 179.14 357.13 185.96 353.37C192.78 349.61 200.53 345.31 207.35 342.14C214.17 338.97 220.37 336.82 226.88 334.33C233.38 331.84 243.15 328.40 246.40 327.21" fill="none" stroke="#8b9dd5" stroke-width="1.0" stroke-linejoin="round"/>
<path d="M41.80 423.58C45.51 422.43 56.93 418.47 64.06 416.65C71.20 414.83 77.92 414.97 84.59 412.66C91.27 410.34 97.30 406.47 104.12 402.75C110.94 399.02 118.69 394.65 125.51 390.33C132.33 386.00 138.22 381.14 145.04 376.79C151.86 372.45 159.61 368.59 166.43 364.26C173.25 359.93 179.14 354.91 185.96 350.82C192.78 346.74 200.53 343.24 207.35 339.73C214.17 336.23 220.37 332.56 226.88 329.82C233.38 327.08 243.15 324.40 246.40 323.32" fill="none" stroke="#f4cbb1" stroke-width="1.0" stroke-linejoin="round"/>
<path d="M64.06 414.99C67.48 414.36 77.92 413.22 84.59 411.18C91.27 409.13 97.30 406.30 104.12 402.72C110.94 399.14 118.69 393.97 125.51 389.67C132.33 385.38 138.22 381.46 145.04 376.96C151.86 372.46 159.61 367.16 166.43 362.67C173.25 358.19 179.14 354.32 185.96 350.05C192.78 345.78 200.53 340.81 207.35 337.05C214.17 333.28 220.37 330.46 226.88 327.46C233.38 324.46 243.15 320.45 246.40 319.05" fill="none" stroke="#bbbbbb" stroke-width="1.0" stroke-linejoin="round"/>
<path d="M64.06 416.17C67.48 415.35 77.92 413.53 84.59 411.26C91.27 408.98 97.30 405.97 104.12 402.51C110.94 399.04 118.69 394.70 125.51 390.45C132.33 386.20 138.22 381.37 145.04 377.00C151.86 372.63 159.61 368.54 166.43 364.25C173.25 359.95 179.14 355.20 185.96 351.23C192.78 347.25 200.53 343.89 207.35 340.39C214.17 336.90 220.37 333.07 226.88 330.26C233.38 327.45 243.15 324.65 246.40 323.53" fill="none" stroke="#f1b893" stroke-width="1.0" stroke-linejoin="round"/>
<path d="M64.06 416.70C67.48 416.07 77.92 415.21 84.59 412.90C91.27 410.59 97.30 406.62 104.12 402.85C110.94 399.09 118.69 394.49 125.51 390.30C132.33 386.11 138.22 382.08 145.04 377.74C151.86 373.39 159.61 368.47 166.43 364.22C173.25 359.96 179.14 356.16 185.96 352.19C192.78 348.23 200.53 343.81 207.35 340.43C214.17 337.06 220.37 334.65 226.88 331.93C233.38 329.21 243.15 325.42 246.40 324.12" fill="none" stroke="#9bb7e0" stroke-width="1.0" stroke-linejoin="round"/>
<line x1="263.6" y1="286.20" x2="278.2" y2="286.20" stroke="#86a8da" stroke-width="1.35"/>
<text x="285.00" y="290.10" text-anchor="start" font-size="12" font-weight="400" fill="#1a1a1a" stroke="#1a1a1a" stroke-width="0.26">1</text>
<line x1="263.6" y1="301.06" x2="278.2" y2="301.06" stroke="#efa97c" stroke-width="1.35"/>
<text x="285.00" y="304.96" text-anchor="start" font-size="12" font-weight="400" fill="#1a1a1a" stroke="#1a1a1a" stroke-width="0.26">2</text>
<line x1="263.6" y1="315.92" x2="278.2" y2="315.92" stroke="#adadad" stroke-width="1.35"/>
<text x="285.00" y="319.82" text-anchor="start" font-size="12" font-weight="400" fill="#1a1a1a" stroke="#1a1a1a" stroke-width="0.26">3</text>
<line x1="263.6" y1="330.78" x2="278.2" y2="330.78" stroke="#f2c0a0" stroke-width="1.35"/>
<text x="285.00" y="334.68" text-anchor="start" font-size="12" font-weight="400" fill="#1a1a1a" stroke="#1a1a1a" stroke-width="0.26">4</text>
<line x1="263.6" y1="345.64" x2="278.2" y2="345.64" stroke="#7288cc" stroke-width="1.35"/>
<text x="285.00" y="349.54" text-anchor="start" font-size="12" font-weight="400" fill="#1a1a1a" stroke="#1a1a1a" stroke-width="0.26">5</text>
<line x1="263.6" y1="360.50" x2="278.2" y2="360.50" stroke="#98bd86" stroke-width="1.35"/>
<text x="285.00" y="364.40" text-anchor="start" font-size="12" font-weight="400" fill="#1a1a1a" stroke="#1a1a1a" stroke-width="0.26">6</text>
<line x1="263.6" y1="375.36" x2="278.2" y2="375.36" stroke="#bdbdbd" stroke-width="1.35"/>
<text x="285.00" y="379.26" text-anchor="start" font-size="12" font-weight="400" fill="#1a1a1a" stroke="#1a1a1a" stroke-width="0.26">7</text>
<line x1="263.6" y1="390.22" x2="278.2" y2="390.22" stroke="#cdb46c" stroke-width="1.35"/>
<text x="285.00" y="394.12" text-anchor="start" font-size="12" font-weight="400" fill="#1a1a1a" stroke="#1a1a1a" stroke-width="0.26">8</text>
<line x1="263.6" y1="405.08" x2="278.2" y2="405.08" stroke="#7565bd" stroke-width="1.35"/>
<text x="285.00" y="408.98" text-anchor="start" font-size="12" font-weight="400" fill="#1a1a1a" stroke="#1a1a1a" stroke-width="0.26">9</text>
<line x1="263.6" y1="419.94" x2="278.2" y2="419.94" stroke="#f0cb66" stroke-width="1.35"/>
<text x="285.00" y="423.84" text-anchor="start" font-size="12" font-weight="400" fill="#1a1a1a" stroke="#1a1a1a" stroke-width="0.26">10</text>
<line x1="263.6" y1="434.80" x2="278.2" y2="434.80" stroke="#c08ce8" stroke-width="1.35"/>
<text x="285.00" y="438.70" text-anchor="start" font-size="12" font-weight="400" fill="#1a1a1a" stroke="#1a1a1a" stroke-width="0.26">11</text>
<text x="357.30" y="286.70" text-anchor="start" font-size="20.5" font-weight="700" fill="#000" >d</text>
<line x1="419.00" y1="424.53" x2="655.20" y2="424.53" stroke="#c8c8c8" stroke-width="1" stroke-dasharray="2 1.55"/>
<line x1="419.00" y1="399.06" x2="655.20" y2="399.06" stroke="#c8c8c8" stroke-width="1" stroke-dasharray="2 1.55"/>
<line x1="419.00" y1="373.59" x2="655.20" y2="373.59" stroke="#c8c8c8" stroke-width="1" stroke-dasharray="2 1.55"/>
<line x1="419.00" y1="348.12" x2="655.20" y2="348.12" stroke="#c8c8c8" stroke-width="1" stroke-dasharray="2 1.55"/>
<line x1="419.00" y1="322.65" x2="655.20" y2="322.65" stroke="#c8c8c8" stroke-width="1" stroke-dasharray="2 1.55"/>
<line x1="419.00" y1="297.18" x2="655.20" y2="297.18" stroke="#c8c8c8" stroke-width="1" stroke-dasharray="2 1.55"/>
<text x="412.00" y="453.90" text-anchor="end" font-size="12.7" font-weight="400" fill="#1a1a1a" stroke="#1a1a1a" stroke-width="0.26">0</text>
<text x="412.00" y="428.43" text-anchor="end" font-size="12.7" font-weight="400" fill="#1a1a1a" stroke="#1a1a1a" stroke-width="0.26">500</text>
<text x="412.00" y="402.96" text-anchor="end" font-size="12.7" font-weight="400" fill="#1a1a1a" stroke="#1a1a1a" stroke-width="0.26">1000</text>
<text x="412.00" y="377.49" text-anchor="end" font-size="12.7" font-weight="400" fill="#1a1a1a" stroke="#1a1a1a" stroke-width="0.26">1500</text>
<text x="412.00" y="352.02" text-anchor="end" font-size="12.7" font-weight="400" fill="#1a1a1a" stroke="#1a1a1a" stroke-width="0.26">2000</text>
<text x="412.00" y="326.55" text-anchor="end" font-size="12.7" font-weight="400" fill="#1a1a1a" stroke="#1a1a1a" stroke-width="0.26">2500</text>
<text x="412.00" y="301.08" text-anchor="end" font-size="12.7" font-weight="400" fill="#1a1a1a" stroke="#1a1a1a" stroke-width="0.26">3000</text>
<rect x="420.90" y="314.24" width="8.60" height="135.76" fill="#adb7cb"/>
<rect x="429.50" y="413.83" width="8.60" height="36.17" fill="#fde394"/>
<rect x="444.62" y="396.72" width="8.60" height="53.28" fill="#adb7cb"/>
<rect x="453.22" y="419.08" width="8.60" height="30.92" fill="#fde394"/>
<rect x="468.34" y="398.04" width="8.60" height="51.96" fill="#adb7cb"/>
<rect x="476.94" y="409.76" width="8.60" height="40.24" fill="#fde394"/>
<rect x="492.06" y="399.82" width="8.60" height="50.18" fill="#adb7cb"/>
<rect x="500.66" y="406.09" width="8.60" height="43.91" fill="#fde394"/>
<rect x="515.78" y="412.20" width="8.60" height="37.80" fill="#adb7cb"/>
<rect x="524.38" y="414.34" width="8.60" height="35.66" fill="#fde394"/>
<rect x="539.50" y="427.84" width="8.60" height="22.16" fill="#adb7cb"/>
<rect x="548.10" y="429.11" width="8.60" height="20.89" fill="#fde394"/>
<rect x="563.22" y="438.49" width="8.60" height="11.51" fill="#adb7cb"/>
<rect x="571.82" y="439.30" width="8.60" height="10.70" fill="#fde394"/>
<rect x="586.94" y="445.21" width="8.60" height="4.79" fill="#adb7cb"/>
<rect x="595.54" y="445.62" width="8.60" height="4.38" fill="#fde394"/>
<rect x="610.66" y="448.06" width="8.60" height="1.94" fill="#adb7cb"/>
<rect x="619.26" y="448.88" width="8.60" height="1.12" fill="#fde394"/>
<rect x="634.38" y="448.37" width="8.60" height="1.63" fill="#adb7cb"/>
<rect x="642.98" y="449.08" width="8.60" height="0.92" fill="#fde394"/>
<line x1="418.00" y1="296.68" x2="418.00" y2="450.70" stroke="#7e7e7e" stroke-width="1.5"/>
<line x1="417.30" y1="450.00" x2="654.8" y2="450.00" stroke="#7e7e7e" stroke-width="1.5"/>
<text transform="translate(433.36,454.80) rotate(-90)" text-anchor="end" font-size="12.7" font-weight="400" fill="#1a1a1a" stroke="#1a1a1a" stroke-width="0.26">&lt;3.0</text>
<text transform="translate(457.08,454.80) rotate(-90)" text-anchor="end" font-size="12.7" font-weight="400" fill="#1a1a1a" stroke="#1a1a1a" stroke-width="0.26">3.0–3.5</text>
<text transform="translate(480.80,454.80) rotate(-90)" text-anchor="end" font-size="12.7" font-weight="400" fill="#1a1a1a" stroke="#1a1a1a" stroke-width="0.26">3.5–4.0</text>
<text transform="translate(504.52,454.80) rotate(-90)" text-anchor="end" font-size="12.7" font-weight="400" fill="#1a1a1a" stroke="#1a1a1a" stroke-width="0.26">4.0–4.5</text>
<text transform="translate(528.24,454.80) rotate(-90)" text-anchor="end" font-size="12.7" font-weight="400" fill="#1a1a1a" stroke="#1a1a1a" stroke-width="0.26">4.5–5.0</text>
<text transform="translate(551.96,454.80) rotate(-90)" text-anchor="end" font-size="12.7" font-weight="400" fill="#1a1a1a" stroke="#1a1a1a" stroke-width="0.26">5.0–5.5</text>
<text transform="translate(575.68,454.80) rotate(-90)" text-anchor="end" font-size="12.7" font-weight="400" fill="#1a1a1a" stroke="#1a1a1a" stroke-width="0.26">5.5–6.0</text>
<text transform="translate(599.40,454.80) rotate(-90)" text-anchor="end" font-size="12.7" font-weight="400" fill="#1a1a1a" stroke="#1a1a1a" stroke-width="0.26">6.0–6.5</text>
<text transform="translate(623.12,454.80) rotate(-90)" text-anchor="end" font-size="12.7" font-weight="400" fill="#1a1a1a" stroke="#1a1a1a" stroke-width="0.26">6.5–7.0</text>
<text transform="translate(646.84,454.80) rotate(-90)" text-anchor="end" font-size="12.7" font-weight="400" fill="#1a1a1a" stroke="#1a1a1a" stroke-width="0.26">7.0–7.5</text>
<text transform="translate(373.00,373.65) rotate(-90)" text-anchor="middle" font-size="12.8" font-weight="400" fill="#1a1a1a" stroke="#1a1a1a" stroke-width="0.26">Count</text>
<text x="476.60" y="521.80" text-anchor="start" font-size="12.52" font-weight="400" fill="#1a1a1a" stroke="#1a1a1a" stroke-width="0.26">Log10 copies per cell</text>
<rect x="506" y="289" width="169" height="31" fill="#fff"/>
<rect x="522" y="298.5" width="4.2" height="3.8" fill="#f6d873"/>
<rect x="522" y="312.8" width="4.2" height="3.8" fill="#a3aec3"/>
<text x="530.50" y="303.20" text-anchor="start" font-size="8.34" font-weight="400" fill="#1a1a1a" stroke="#1a1a1a" stroke-width="0.12">SWATH-MS — HEK293 (this study)</text>
<text x="530.50" y="318.00" text-anchor="start" font-size="8.36" font-weight="400" fill="#1a1a1a" stroke="#1a1a1a" stroke-width="0.12">Fractionated DDA – U2OS (Beck et al.)</text>
</g></svg>
</body></html>
